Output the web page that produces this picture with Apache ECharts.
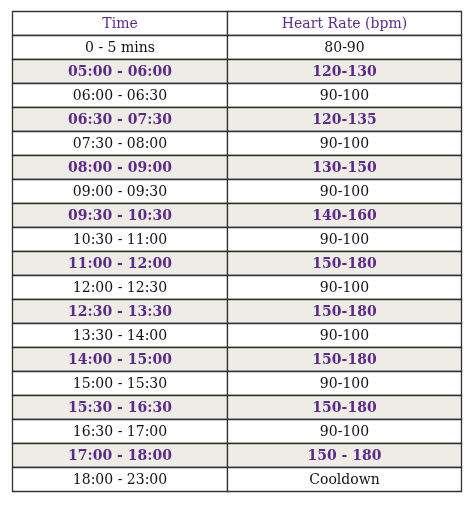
<!DOCTYPE html>
<html><head><meta charset="utf-8">
<script src="https://cdn.jsdelivr.net/npm/echarts@6/dist/echarts.min.js"></script>
<style>html,body{margin:0;padding:0;background:#fff}#c{width:474px;height:514px}</style>
</head><body><div id="c"></div>
<script>
const headers = ['Time', 'Heart Rate (bpm)'];
const times = ['0 - 5 mins','05:00 - 06:00','06:00 - 06:30','06:30 - 07:30','07:30 - 08:00','08:00 - 09:00','09:00 - 09:30','09:30 - 10:30','10:30 - 11:00','11:00 - 12:00','12:00 - 12:30','12:30 - 13:30','13:30 - 14:00','14:00 - 15:00','15:00 - 15:30','15:30 - 16:30','16:30 - 17:00','17:00 - 18:00','18:00 - 23:00'];
const rates = ['80-90','120-130','90-100','120-135','90-100','130-150','90-100','140-160','90-100','150-180','90-100','150-180','90-100','150-180','90-100','150-180','90-100','150 - 180','Cooldown'];
const highlighted = [false,true,false,true,false,true,false,true,false,true,false,true,false,true,false,true,false,true,false];

const colStart = [0, 0.479];
const colEnd = [0.479, 1];
const data = [];
headers.forEach((h, c) => data.push({value: [c, 0], text: h, kind: 'head'}));
times.forEach((t, i) => {
  const k = highlighted[i] ? 'hi' : 'norm';
  data.push({value: [0, i + 1], text: t, kind: k});
  data.push({value: [1, i + 1], text: rates[i], kind: k});
});
const nRows = times.length + 1;

const chart = echarts.init(document.getElementById('c'));
chart.setOption({
  animation: false,
  grid: {left: 12, top: 11, width: 449, height: 480},
  xAxis: {type: 'value', min: 0, max: 1, show: false},
  yAxis: {type: 'value', min: 0, max: nRows, inverse: true, show: false},
  series: [{
    type: 'custom',
    data: data,
    renderItem: function (params, api) {
      const d = data[params.dataIndex];
      const col = api.value(0), row = api.value(1);
      const p0 = api.coord([colStart[col], row]);
      const p1 = api.coord([colEnd[col], row + 1]);
      const x = Math.round(p0[0]) + 0.5, y = Math.round(p0[1]) + 0.5;
      const w = Math.round(p1[0]) - Math.round(p0[0]), h = Math.round(p1[1]) - Math.round(p0[1]);
      const fill = d.kind === 'hi' ? '#eeece5' : '#ffffff';
      const color = d.kind === 'norm' ? '#111111' : '#5a2a8c';
      const weight = d.kind === 'hi' ? 'bold' : 'normal';
      return {
        type: 'group',
        children: [
          {type: 'rect', shape: {x: x, y: y, width: w, height: h}, style: {fill: fill, stroke: '#333', lineWidth: 1.3}},
          {type: 'text', style: {x: x + w / 2, y: y + h / 2 + 1, text: d.text, align: 'center', verticalAlign: 'middle',
            fill: color, font: weight + ' 14px "DejaVu Serif", "Liberation Serif", serif'}}
        ]
      };
    }
  }]
});
</script></body></html>
